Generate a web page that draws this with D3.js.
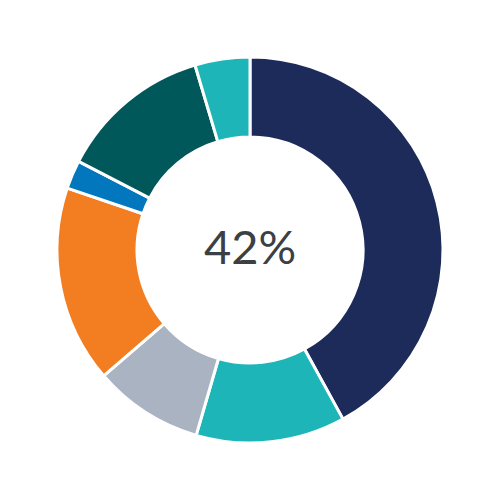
<!DOCTYPE html>
<html lang="en">
<head>
<meta charset="UTF-8">
<script src="https://d3js.org/d3.v7.min.js"></script>
<style>
  body { margin: 0; background-color: #ffffff; }
</style>
</head>
<body>
<div id="my_dataviz"></div>
<script>

// data, clockwise from 12 o'clock
var segments = ["A", "B", "C", "D", "E", "F", "G"];
var values = [42.0, 12.5, 9.2, 16.5, 2.4, 12.8, 4.6];
var colors = ["#1c2b59", "#1db5b7", "#a9b3c1", "#f37d21", "#0277bd", "#01585a", "#1db5b7"];
var centerLabel = "42%";

var width = 500,
    height = 500,
    outerR = 193,
    innerR = 113;

var svg = d3.select("#my_dataviz")
    .append("svg")
        .attr("width", width)
        .attr("height", height)
    .append("g")
        .attr("transform", "translate(" + (width / 2) + "," + (height / 2) + ")");

var pie = d3.pie()
    .sort(null)
    .value(function(d, i) { return values[i]; });

var arc = d3.arc()
    .innerRadius(innerR)
    .outerRadius(outerR);

//slices
svg.selectAll("slice")
    .data(pie(segments))
    .enter()
    .append("path")
        .attr("d", arc)
        .attr("fill", function(d) { return colors[d.index]; })
        .attr("stroke", "white")
        .attr("stroke-width", 3)
        .attr("stroke-linejoin", "round");

//center text
svg.append("text")
    .attr("text-anchor", "middle")
    .attr("y", 14)
    .style("font-family", "Lato, sans-serif")
    .style("font-size", "47px")
    .style("fill", "#3b4045")
    .text(centerLabel);

</script>
</body>
</html>
